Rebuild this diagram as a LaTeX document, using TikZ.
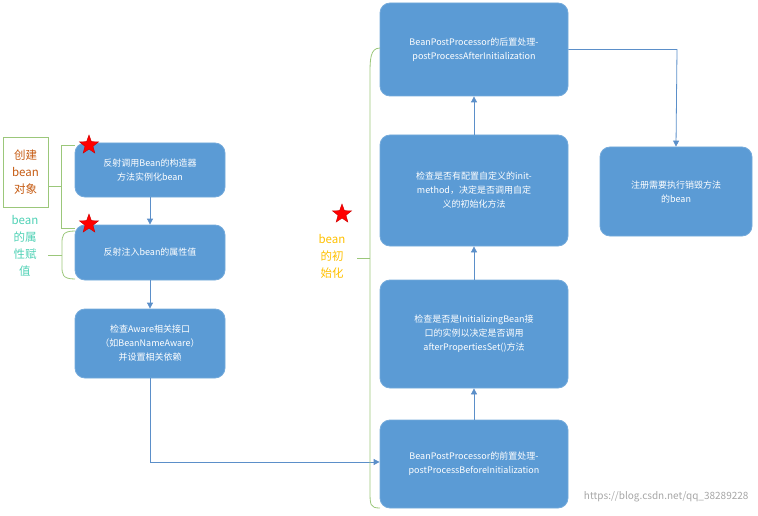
\documentclass[tikz,border=0pt]{standalone}
\usepackage{fontspec}
\setmainfont{Noto Sans CJK SC}
\usetikzlibrary{shapes.geometric,arrows.meta}
\definecolor{boxblue}{HTML}{5B9BD5}
\definecolor{arrblue}{HTML}{5B8FC9}
\definecolor{brgreen}{HTML}{9BC77A}
\definecolor{orangetxt}{HTML}{C55A11}
\definecolor{tealtxt}{HTML}{4FD1B5}
\definecolor{yellowtxt}{HTML}{FFC000}
\tikzset{
  proc/.style={draw=boxblue!85!white, line width=0.8pt, fill=boxblue, rounded corners=10pt, text=white, align=center, font=\fontsize{9}{14}\selectfont, inner sep=2pt},
  conn/.style={draw=arrblue, line width=0.8pt, -{Triangle[length=6pt,width=6pt]}},
  brace/.style={draw=brgreen, line width=0.8pt},
  redstar/.style={star, star points=5, star point ratio=2.4, fill=red, draw=red!80!black, minimum size=20pt, inner sep=0pt}
}
\begin{document}
\begin{tikzpicture}[x=1pt,y=-1pt]
\useasboundingbox (0,0) rectangle (758,516);
% boxes
\node[proc, minimum width=150pt, minimum height=54pt] (a) at (150,170) {反射调用Bean的构造器\\方法实例化bean};
\node[proc, minimum width=150pt, minimum height=55pt] (b) at (150,252.5) {反射注入bean的属性值};
\node[proc, minimum width=150pt, minimum height=69pt] (c) at (150,343.5) {检查Aware相关接口\\（如BeanNameAware）\\并设置相关依赖};
\node[proc, minimum width=188pt, minimum height=88pt] (d) at (474,464) {BeanPostProcessor的前置处理-\\postProcessBeforeInitialization};
\node[proc, minimum width=188pt, minimum height=108pt] (e) at (474,334) {检查是否是InitializingBean接\\口的实例以决定是否调用\\afterPropertiesSet()方法};
\node[proc, minimum width=188pt, minimum height=111pt] (f) at (474,190.5) {检查是否有配置自定义的init-\\method，决定是否调用自定\\义的初始化方法};
\node[proc, minimum width=188pt, minimum height=93pt] (g) at (474,49.5) {BeanPostProcessor的后置处理-\\postProcessAfterInitialization};
\node[proc, minimum width=152pt, minimum height=89pt] (h) at (676,191.5) {注册需要执行销毁方法\\的bean};
% connectors
\draw[conn] (a) -- (b);
\draw[conn] (b) -- (c);
\coordinate (cturn) at (150,462);
\draw[conn] (c.south) -- (cturn) -- (d.west |- cturn);
\draw[conn] (d) -- (e);
\draw[conn] (e) -- (f);
\draw[conn] (f) -- (g);
\coordinate (gturn) at (677,49.5);
\draw[conn] (g.east) -- (gturn) -- (h.north);
% brackets
\draw[brace] (75,145) -- (61,145) -- (61,228) -- (75,228);
\draw[brace] (61,186) -- (48,186);
\node[draw=brgreen, line width=0.8pt, minimum width=45pt, minimum height=70pt, text=orangetxt, align=center, font=\fontsize{11.5}{17}\selectfont, inner sep=1pt] (l1) at (25.5,172) {创建\\bean\\对象};
\draw[brace] (75,231) .. controls (62,231) and (62,236) .. (62,244) -- (62,266) .. controls (62,274) and (62,279) .. (75,279);
\draw[brace] (62,255) -- (48,255);
\node[text=tealtxt, align=center, font=\fontsize{11.5}{17}\selectfont] (l2) at (25,246) {bean\\的属\\性赋\\值};
\draw[brace] (380,48) .. controls (370,48) and (370,60) .. (370,75) -- (370,490) .. controls (370,505) and (370,508) .. (380,508);
\draw[brace] (370,258) -- (357,258);
\node[text=yellowtxt, align=center, font=\fontsize{11.5}{17}\selectfont] (l3) at (332,256) {bean\\的初\\始化};
% stars
\node[redstar] (s1) at (89,145) {};
\node[redstar] (s2) at (89,224) {};
\node[redstar] (s3) at (342,214) {};
% watermark
\node[text=gray!70, font=\fontsize{10}{12}\selectfont, anchor=east] (wm) at (752,497) {https://blog.csdn.net/qq\_38289228};
\end{tikzpicture}
\end{document}
